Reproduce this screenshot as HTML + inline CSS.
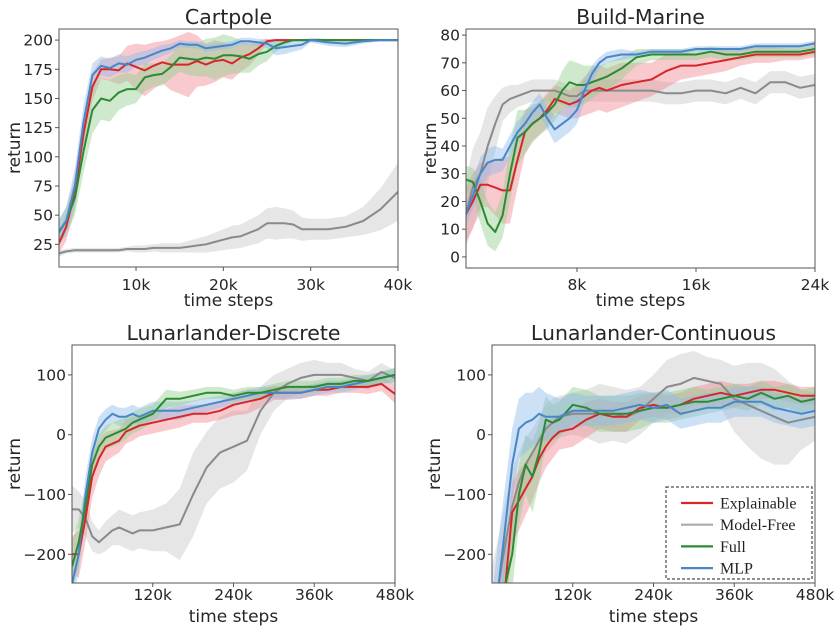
<!DOCTYPE html>
<html><head><meta charset="utf-8">
<style>
html,body{margin:0;padding:0;background:#fff;width:839px;height:630px;overflow:hidden;}
svg{display:block;font-family:"DejaVu Sans","Liberation Sans",sans-serif;}
</style></head>
<body>
<svg id="fig" width="839" height="630" viewBox="0 0 839 630" xmlns="http://www.w3.org/2000/svg"></svg>
<script>
// ---------- Data ----------
const seriesNames = ["Explainable","Model-Free","Full","MLP"];
// Cartpole (x in k steps)
const cpX = [1,2,3,4,5,6,7,8,9,10,11,12,13,14,15,16,17,18,19,20,21,22,23,24,25,26,27,28,29,30,32,34,36,38,40];
const cpRed   = [23,40,70,120,160,175,175,174,180,177,174,178,181,179,179,179,182,179,182,183,180,185,188,193,199,200,200,200,200,200,200,200,200,200,200];
const cpGray  = [17,19,20,20,20,20,20,20,21,21,21,22,22,22,22,23,24,25,27,29,31,32,35,38,43,43,43,42,38,38,38,40,45,55,70];
const cpGreen = [34,45,65,105,140,150,148,155,158,158,168,170,171,177,185,184,183,185,184,187,187,186,184,188,190,195,198,200,200,200,200,200,200,200,200];
const cpBlue  = [33,45,75,130,170,178,176,180,179,183,185,188,191,193,197,196,196,193,194,195,196,199,199,198,197,193,194,195,196,200,198,197,199,200,200];
const cpRedSd   = [8,12,15,15,12,8,10,12,15,20,22,20,18,22,25,28,22,18,18,15,14,12,10,6,2,1,1,0,0,0,0,0,0,0,0];
const cpGraySd  = [3,2,2,2,2,2,2,2,2,3,3,3,4,4,4,5,6,7,8,9,10,10,11,12,13,14,13,12,10,9,9,9,12,18,25];
const cpGreenSd = [10,12,15,18,20,18,18,15,14,12,12,10,10,10,12,14,14,16,18,18,16,14,12,10,8,5,3,1,0,0,0,0,0,0,0];
const cpBlueSd  = [10,12,15,15,10,8,8,8,7,6,6,5,5,4,3,3,3,3,3,3,3,3,3,3,4,6,6,5,4,2,3,3,2,1,1];
// Build-Marine
const bmX = [0.5,1,1.5,2,2.5,3,3.5,4,4.5,5,5.5,6,6.5,7,7.5,8,8.5,9,9.5,10,11,12,13,14,15,16,17,18,19,20,21,22,23,24];
const bmRed   = [15,20,26,26,25,24,24,35,45,48,50,53,57,56,55,56,58,60,61,60,62,63,64,67,69,69,70,71,72,73,73,73,73,74];
const bmGray  = [15,25,30,40,48,55,57,58,59,60,60,60,60,59,58,58,60,60,60,60,60,60,60,59,59,60,60,59,61,59,63,63,61,62];
const bmGreen = [28,27,20,12,9,15,30,43,45,48,50,52,55,60,63,62,62,63,64,65,68,72,73,73,73,73,74,73,73,74,74,74,74,75];
const bmBlue  = [15,22,30,34,35,35,40,45,48,52,55,50,46,48,50,53,60,66,70,72,73,73,74,74,74,75,75,75,75,76,76,76,76,77];
const bmRedSd   = [10,10,8,8,10,12,12,10,8,6,6,6,5,5,5,6,7,8,8,8,8,7,6,6,5,4,4,4,3,3,3,2,2,2];
const bmGraySd  = [12,14,15,14,10,6,5,4,4,4,4,4,4,4,4,4,4,4,4,4,4,4,4,4,4,4,4,4,4,4,4,4,4,4];
const bmGreenSd = [5,5,8,8,7,8,10,10,8,7,6,6,6,7,8,8,7,6,5,5,4,3,2,2,2,2,2,2,2,2,2,2,2,2];
const bmBlueSd  = [4,5,6,5,5,4,4,4,4,4,4,4,5,5,5,5,4,3,2,2,2,1,1,1,1,1,1,1,1,1,1,1,1,1];
// Lunarlander-Discrete
const ldX = [0,10,20,30,40,50,60,70,80,90,100,120,140,160,180,200,220,240,260,280,300,320,340,360,380,400,420,440,460,480];
const ldRed   = [-200,-200,-140,-70,-40,-20,-15,-10,5,10,15,20,25,30,35,35,40,50,55,60,70,70,70,75,75,80,80,80,85,68];
const ldGray  = [-125,-125,-140,-170,-180,-170,-160,-155,-160,-165,-160,-160,-155,-150,-100,-55,-30,-20,-10,40,70,85,95,100,100,100,95,90,105,95];
const ldGreen = [-220,-180,-120,-50,-20,-5,0,5,10,20,25,35,60,60,65,70,70,65,70,70,75,80,80,80,85,85,90,90,95,100];
const ldBlue  = [-250,-200,-100,-30,10,25,35,30,30,35,30,40,40,40,45,50,55,60,65,70,70,70,70,75,80,80,85,90,95,100];
const ldRedSd   = [30,40,40,35,30,25,22,20,20,20,18,18,18,18,15,15,15,18,20,15,12,12,10,10,10,10,10,12,12,15];
const ldGraySd  = [40,30,30,25,20,25,25,30,30,30,30,35,40,60,70,60,60,60,50,40,30,25,25,25,20,20,15,15,15,12];
const ldGreenSd = [40,40,30,25,20,20,20,20,18,18,18,15,15,12,10,10,10,10,10,10,10,10,10,10,10,10,10,10,10,12];
const ldBlueSd  = [30,30,30,25,20,18,15,15,15,15,15,15,15,15,12,12,10,10,10,10,10,10,10,10,10,10,10,10,10,12];
// Lunarlander-Continuous
const lcX = [0,10,20,30,40,50,60,70,80,90,100,120,140,160,180,200,220,240,260,280,300,320,340,360,380,400,420,440,460,480];
const lcRed   = [-400,-300,-250,-130,-110,-90,-70,-40,-20,-5,5,10,25,35,30,30,45,50,45,50,60,65,70,65,70,75,75,70,65,65];
const lcGray  = [-300,-250,-180,-120,-80,-50,-30,-10,10,20,30,35,35,35,35,30,40,60,80,85,95,90,85,60,50,40,30,20,25,30];
const lcGreen = [-450,-350,-250,-200,-100,-50,-70,-30,25,20,25,50,45,35,35,35,40,45,45,50,55,55,60,65,60,70,60,65,55,60];
const lcBlue  = [-350,-250,-150,-50,10,20,25,35,30,30,30,40,40,40,40,45,50,45,50,35,40,45,45,55,55,55,45,40,35,40];
const lcRedSd   = [60,60,60,50,50,45,40,40,35,35,30,30,30,25,25,25,20,20,20,20,20,20,20,20,15,15,15,15,15,15];
const lcGraySd  = [80,80,70,60,50,45,40,40,40,40,35,35,40,50,45,45,40,40,45,50,45,40,40,55,70,80,80,70,50,40];
const lcGreenSd = [60,60,60,60,50,50,60,50,40,30,30,30,30,30,30,30,30,25,25,25,25,20,20,20,20,20,20,20,20,20];
const lcBlueSd  = [80,80,70,60,50,50,45,45,40,35,30,30,25,25,25,25,25,25,25,25,25,25,25,25,25,25,25,25,25,25];
// Ticks
const cpXTicks = [10,20,30,40], cpXLabels = ["10k","20k","30k","40k"];
const cpYTicks = [25,50,75,100,125,150,175,200];
const bmXTicks = [8,16,24], bmXLabels = ["8k","16k","24k"];
const bmYTicks = [0,10,20,30,40,50,60,70,80];
const llXTicks = [120,240,360,480], llXLabels = ["120k","240k","360k","480k"];
const llYTicks = [-200,-100,0,100], llYLabels = ["\u2212200","\u2212100","0","100"];

// ---------- Rendering ----------
const NS = "http://www.w3.org/2000/svg";
const svg = document.getElementById("fig");
const COLORS = {red:"#d62728", gray:"#8a8a8a", green:"#2b8a35", blue:"#4a86c6"};
const BAND = {red:"#f08a92", gray:"#c8c8c8", green:"#92cf8e", blue:"#8dbbeb"};
function mk(tag, attrs, parent){
  const e = document.createElementNS(NS, tag);
  for (const k in attrs) e.setAttribute(k, attrs[k]);
  (parent||svg).appendChild(e);
  return e;
}

const panels = [
  {id:"cartpole", title:"Cartpole", L:59, R:398, T:29, B:267, xd:[1.18,40], yd:[5.6,209.5],
   x:cpX, xt:cpXTicks, xl:cpXLabels, yt:cpYTicks, yl:cpYTicks.map(String), ylabX:14, titleY:24, xtY:290, xlabY:306,
   s:[["red",cpRed,cpRedSd],["gray",cpGray,cpGraySd],["green",cpGreen,cpGreenSd],["blue",cpBlue,cpBlueSd]]},
  {id:"build-marine", title:"Build-Marine", L:466, R:815, T:29, B:268, xd:[0.54,24], yd:[-4,82.2],
   x:bmX, xt:bmXTicks, xl:bmXLabels, yt:bmYTicks, yl:bmYTicks.map(String), ylabX:430, titleY:24, xtY:290, xlabY:306,
   s:[["gray",bmGray,bmGraySd],["red",bmRed,bmRedSd],["green",bmGreen,bmGreenSd],["blue",bmBlue,bmBlueSd]]},
  {id:"lunarlander-discrete", title:"Lunarlander-Discrete", L:72, R:395, T:345, B:583, xd:[0,480], yd:[-248,150],
   x:ldX, xt:llXTicks, xl:llXLabels, yt:llYTicks, yl:llYLabels, ylabX:14, titleY:340, xtY:600, xlabY:622,
   s:[["gray",ldGray,ldGraySd],["red",ldRed,ldRedSd],["blue",ldBlue,ldBlueSd],["green",ldGreen,ldGreenSd]]},
  {id:"lunarlander-continuous", title:"Lunarlander-Continuous", L:492, R:815, T:345, B:583, xd:[0,480], yd:[-248,150],
   x:lcX, xt:llXTicks, xl:llXLabels, yt:llYTicks, yl:llYLabels, ylabX:434, titleY:340, xtY:600, xlabY:622,
   s:[["gray",lcGray,lcGraySd],["red",lcRed,lcRedSd],["green",lcGreen,lcGreenSd],["blue",lcBlue,lcBlueSd]]}
];

panels.forEach((p, pi) => {
  const xs = v => p.L + (v - p.xd[0]) / (p.xd[1] - p.xd[0]) * (p.R - p.L);
  const ys = v => p.B - (v - p.yd[0]) / (p.yd[1] - p.yd[0]) * (p.B - p.T);
  const g = mk("g", {});
  
  
  const cid = "clip" + pi;
  const cp = mk("clipPath", {id:cid}, g);
  mk("rect", {x:p.L, y:p.T, width:p.R-p.L, height:p.B-p.T}, cp);
  const plot = mk("g", {"clip-path":"url(#"+cid+")"}, g);
  
  
  p.s.forEach(([c, m, sd]) => {
    let d = "";
    p.x.forEach((xv,i) => { d += (i?"L":"M") + xs(xv).toFixed(1) + "," + ys(m[i]+sd[i]).toFixed(1); });
    for (let i = p.x.length-1; i >= 0; i--) d += "L" + xs(p.x[i]).toFixed(1) + "," + ys(m[i]-sd[i]).toFixed(1);
    const band = mk("path", {d:d+"Z", fill:BAND[c], "fill-opacity":0.45, stroke:"none"}, plot);
    
    
  });
  p.s.forEach(([c, m]) => {
    let d = "";
    p.x.forEach((xv,i) => { d += (i?"L":"M") + xs(xv).toFixed(1) + "," + ys(m[i]).toFixed(1); });
    const ln = mk("path", {d:d, fill:"none", stroke:COLORS[c], "stroke-width":2, "stroke-linejoin":"round"}, plot);
    
    
  });
  const fr = mk("rect", {x:p.L, y:p.T, width:p.R-p.L, height:p.B-p.T, fill:"none", stroke:"#555", "stroke-width":1}, g);
  
  
  p.yt.forEach((v,i) => {
    const y = ys(v);
    mk("line", {x1:p.L-4, x2:p.L, y1:y, y2:y, stroke:"#555"}, g);
    const t = mk("text", {x:p.L-6, y:y+5.5, "text-anchor":"end", "font-size":15.5, fill:"#262626"}, g);
    t.textContent = p.yl[i];
    
    
  });
  p.xt.forEach((v,i) => {
    const x = xs(v);
    mk("line", {x1:x, x2:x, y1:p.B, y2:p.B+4, stroke:"#555"}, g);
    const t = mk("text", {x:x, y:p.xtY, "text-anchor":"middle", "font-size":15.5, fill:"#262626"}, g);
    t.textContent = p.xl[i];
    
    
  });
  const tt = mk("text", {x:(p.L+p.R)/2, y:p.titleY, "text-anchor":"middle", "font-size":20.5, fill:"#262626"}, g);
  tt.textContent = p.title;
  
  
  const xl = mk("text", {x:(p.L+p.R)/2, y:p.xlabY, "text-anchor":"middle", "font-size":17, fill:"#262626"}, g);
  xl.textContent = "time steps";
  
  
  const yc = (p.T+p.B)/2;
  const yl = mk("text", {x:p.ylabX, y:yc, "text-anchor":"middle", "font-size":17, fill:"#262626", transform:"rotate(-90 "+(p.ylabX)+" "+yc+") translate(0 6)"}, g);
  yl.textContent = "return";
  
  
});

const lg = mk("g", {});


mk("rect", {x:666, y:487, width:146, height:92, fill:"#fff", stroke:"#222", "stroke-width":1, "stroke-dasharray":"3,2"}, lg);
const legColors = [COLORS.red, "#aaaaaa", COLORS.green, COLORS.blue];
seriesNames.forEach((n,i) => {
  const y = 503 + i*21.7;
  const ln = mk("line", {x1:681, x2:713, y1:y, y2:y, stroke:legColors[i], "stroke-width":2.2}, lg);
  
  
  const t = mk("text", {x:720, y:y+5.5, "font-size":16, fill:"#222", "font-family":"'Liberation Serif',serif"}, lg);
  t.textContent = n;
  
  
});
</script>
</body></html>
